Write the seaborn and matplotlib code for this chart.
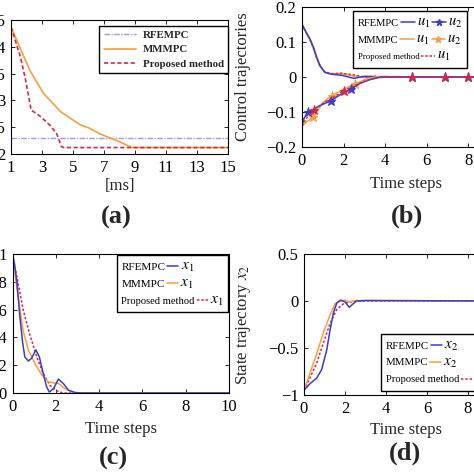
import seaborn as sns
import matplotlib.pyplot as plt
from matplotlib.lines import Line2D
from matplotlib.offsetbox import AnchoredOffsetbox, DrawingArea, HPacker, TextArea, VPacker

# (a) computation time against prediction horizon
a_rfe_x = [1, 15]
a_rfe_y = [2.30, 2.30]
a_mmm_x = [1.0, 2.2, 3.1, 4.2, 5.5, 6.0, 6.7, 8.0, 8.8, 15]
a_mmm_y = [4.37, 3.57, 3.13, 2.79, 2.54, 2.49, 2.38, 2.23, 2.12, 2.12]
a_pro_x = [1.0, 1.6, 1.9, 2.3, 2.9, 3.5, 3.95, 4.25, 4.4, 15]
a_pro_y = [4.37, 3.82, 3.44, 2.82, 2.70, 2.54, 2.38, 2.14, 2.12, 2.12]
a_xticks = [1, 3, 5, 7, 9, 11, 13, 15]
a_yticks = [2, 2.5, 3, 3.5, 4, 4.5]
a_ylabels = ['2', '2.5', '3', '3.5', '4', '4.5']

# (b) control trajectories
b_u1_x = [0, 0.2, 0.38, 0.55, 0.71, 0.87, 1.1, 1.4, 1.9, 2.5, 3.0, 3.5, 4.0, 10]
b_rfe_u1 = [0.150, 0.128, 0.109, 0.085, 0.056, 0.032, 0.013, 0.008, 0.005, -0.004, 0.002, 0.001, 0.0, 0.0]
b_mmm_u1 = [0.150, 0.126, 0.106, 0.082, 0.052, 0.030, 0.014, 0.010, 0.009, 0.002, -0.002, 0.001, 0.0, 0.0]
b_pro_u1 = [0.150, 0.127, 0.108, 0.083, 0.054, 0.031, 0.014, 0.009, 0.011, 0.006, 0.0, 0.002, 0.0, 0.0]
b_rfe_u2_x = [0, 0.1, 0.27, 0.6, 1.0, 1.39, 1.8, 2.36, 2.8, 3.3, 3.8, 4.5, 5.27, 6.87, 7.98, 9.5, 10]
b_rfe_u2 = [-0.14, -0.118, -0.101, -0.09, -0.078, -0.068, -0.052, -0.034, -0.018, -0.007, 0.0, 0.0, 0.0, 0.0, 0.0, 0.0, 0.0]
b_rfe_marks = [0.27, 1.39, 2.36, 5.27, 6.87, 7.98, 9.5]
b_mmm_u2_x = [0, 0.25, 0.54, 0.8, 1.1, 1.43, 2.0, 2.55, 3.0, 3.5, 4.0, 4.5, 10]
b_mmm_u2 = [-0.14, -0.127, -0.115, -0.09, -0.068, -0.053, -0.035, -0.02, -0.008, 0.0, 0.002, 0.0, 0.0]
b_mmm_marks = [0.54, 1.43, 2.55]
b_pro_u2_x = [0, 0.3, 0.59, 1.0, 1.5, 2.03, 2.5, 3.0, 3.5, 4.0, 5.27, 6.87, 7.98, 9.5, 10]
b_pro_u2 = [-0.14, -0.11, -0.093, -0.075, -0.058, -0.039, -0.025, -0.012, -0.003, 0.0, 0.0, 0.0, 0.0, 0.0, 0.0]
b_pro_marks = [0.59, 2.03, 5.27, 6.87, 7.98, 9.5]
b_yticks = [-0.2, -0.1, 0, 0.1, 0.2]
b_ylabels = ['\u22120.2', '\u22120.1', '0', '0.1', '0.2']

# (c) state trajectory x1
c_rfe_x = [0, 0.1, 0.21, 0.34, 0.47, 0.57, 0.73, 0.88, 1.08, 1.24, 1.42, 1.58, 1.70, 1.89, 2.12, 2.35, 2.59, 2.9, 3.2, 10]
c_rfe_y = [1.0, 0.92, 0.79, 0.55, 0.36, 0.26, 0.23, 0.25, 0.31, 0.26, 0.14, 0.043, 0.007, 0.03, 0.10, 0.068, 0.02, 0.003, 0.0, 0.0]
c_mmm_x = [0, 0.26, 0.49, 0.73, 1.04, 1.35, 1.66, 1.89, 2.12, 2.43, 2.8, 3.1, 10]
c_mmm_y = [1.0, 0.69, 0.45, 0.31, 0.21, 0.13, 0.08, 0.073, 0.07, 0.03, 0.004, 0.0, 0.0]
c_pro_x = [0, 0.26, 0.49, 0.80, 1.12, 1.42, 1.73, 2.05, 2.35, 10]
c_pro_y = [1.0, 0.79, 0.60, 0.42, 0.26, 0.14, 0.055, 0.015, 0.0, 0.0]
c_yticks = [0, 0.2, 0.4, 0.6, 0.8, 1]
c_ylabels = ['0', '0.2', '0.4', '0.6', '0.8', '1']

# (d) state trajectory x2
d_rfe_x = [0, 0.29, 0.62, 0.86, 1.11, 1.27, 1.43, 1.6, 1.79, 2.0, 2.21, 2.37, 2.56, 3.0, 10]
d_rfe_y = [-0.95, -0.88, -0.82, -0.73, -0.52, -0.31, -0.13, -0.02, 0.01, -0.01, -0.067, -0.035, 0.0, 0.005, 0.0]
d_mmm_x = [0, 0.29, 0.62, 0.94, 1.27, 1.51, 1.79, 2.0, 2.2, 2.5, 10]
d_mmm_y = [-0.95, -0.77, -0.56, -0.34, -0.15, -0.03, 0.0, 0.01, -0.01, 0.005, 0.0]
d_pro_x = [0, 0.29, 0.62, 0.94, 1.27, 1.6, 1.95, 2.28, 2.6, 10]
d_pro_y = [-0.95, -0.82, -0.66, -0.45, -0.24, -0.09, -0.025, -0.01, 0.0, 0.0]
d_yticks = [-1, -0.5, 0, 0.5]
d_ylabels = ['\u22121', '\u22120.5', '0', '0.5']

steps_xticks = [0, 2, 4, 6, 8, 10]

BLUE = '#3c3cc8'
LAVENDER = '#9c9cd8'
ORANGE = '#f3a040'
RED = '#cf2a4c'
DOT = (0, (1.6, 1.2))

sns.set_theme(style='ticks')
plt.rcParams['font.family'] = ['Liberation Serif', 'DejaVu Serif']
plt.rcParams['mathtext.fontset'] = 'stix'
plt.rcParams['axes.unicode_minus'] = True


def style(ax, xlim, ylim, xticks, yticks, ylabels):
    ax.set_xlim(xlim)
    ax.set_ylim(ylim)
    ax.set_xticks(xticks)
    ax.set_xticklabels([f'{t:g}' for t in xticks])
    ax.set_yticks(yticks)
    ax.set_yticklabels(ylabels)
    ax.tick_params(direction='in', top=True, right=True, length=3, width=0.6,
                   labelsize=12, pad=4, colors='black')
    for s in ax.spines.values():
        s.set_linewidth(0.8)
        s.set_color('black')


def curve(ax, x, y, color, ls='-', lw=1.1, marks=None, label=None):
    kw = {}
    if marks is not None:
        kw = dict(marker='*', ms=6.5, mec=color, mfc=color,
                  markevery=[list(x).index(m) for m in marks])
    sns.lineplot(x=x, y=y, ax=ax, color=color, ls=ls, lw=lw, label=label, **kw)


def row_legend(ax, rows, loc, anchor, sym_size, seg):
    # matlab-ish legend: "name  ---sym  -*-sym" on each row
    boxes = []
    for name, size, items in rows:
        kids = [TextArea(name, textprops=dict(size=size, color='black'))]
        for st, sym in items:
            da = DrawingArea(seg, 6, 0, 0)
            da.add_artist(Line2D([0, seg / 2, seg], [2.6, 2.6, 2.6], markevery=[1], **st))
            kids += [da, TextArea(sym, textprops=dict(size=sym_size, color='black'))]
        boxes.append(HPacker(children=kids, align='baseline', pad=0, sep=1.5))
    box = AnchoredOffsetbox(loc, child=VPacker(children=boxes, align='left', pad=0, sep=2),
                            pad=0.3, borderpad=0, frameon=True,
                            bbox_to_anchor=anchor, bbox_transform=ax.transAxes)
    box.patch.set_boxstyle('square', pad=0)
    box.patch.set_edgecolor('black')
    box.patch.set_linewidth(1.0)
    ax.add_artist(box)


fig = plt.figure(figsize=(4.74, 4.74), dpi=100)
W = H = 474.0


def place(left, top, right, bottom):
    return fig.add_axes([left / W, 1 - bottom / H, (right - left) / W, (bottom - top) / H])


# ---- (a)
ax = place(11, 20, 228, 154)
curve(ax, a_rfe_x, a_rfe_y, LAVENDER, ls=(0, (4, 1, 1, 1)), lw=1.0, label='RFEMPC')
curve(ax, a_mmm_x, a_mmm_y, ORANGE, lw=1.2, label='MMMPC')
curve(ax, a_pro_x, a_pro_y, RED, ls=(0, (2.5, 1.5)), lw=1.2, label='Proposed method')
style(ax, (1, 15), (2, 4.5), a_xticks, a_yticks, a_ylabels)
ax.legend(loc='upper right', bbox_to_anchor=(1, 0.955), borderaxespad=0, handlelength=3.0,
          handletextpad=0.6, labelspacing=0.45, fancybox=False, framealpha=1,
          edgecolor='black', prop=dict(size=7.8, weight='bold')).get_frame().set_linewidth(1.0)
ax.set_xlabel('[ms]', fontsize=12)
ax.xaxis.set_label_coords(0.5, -0.18)

# ---- (b)
ax = place(302, 7, 510, 147)
curve(ax, b_u1_x, b_mmm_u1, ORANGE)
curve(ax, b_u1_x, b_pro_u1, RED, ls=DOT)
curve(ax, b_u1_x, b_rfe_u1, BLUE)
curve(ax, b_mmm_u2_x, b_mmm_u2, ORANGE, marks=b_mmm_marks)
curve(ax, b_rfe_u2_x, b_rfe_u2, BLUE, marks=b_rfe_marks)
curve(ax, b_pro_u2_x, b_pro_u2, RED, ls=DOT, marks=b_pro_marks)
style(ax, (0, 10), (-0.2, 0.2), steps_xticks, b_yticks, b_ylabels)
ax.set_xlabel('Time steps', fontsize=12)
ax.xaxis.set_label_coords(0.5, -0.205)
ax.set_ylabel('Control trajectories', fontsize=12)
ax.yaxis.set_label_coords(-0.245, 0.5)
solid = dict(lw=1.1, ls='-')
row_legend(ax, [
    ('RFEMPC', 7.6, [(dict(color=BLUE, **solid), '$u_1$'),
                     (dict(color=BLUE, marker='*', ms=5, **solid), '$u_2$')]),
    ('MMMPC', 7.6, [(dict(color=ORANGE, **solid), '$u_1$'),
                    (dict(color=ORANGE, marker='*', ms=5, **solid), '$u_2$')]),
    ('Proposed method', 6.3, [(dict(color=RED, lw=1.1, ls=DOT), '$u_1$')]),
], 'upper left', (0.245, 0.971), 10.5, 10)

# ---- (c)
ax = place(12.5, 254, 229, 393)
curve(ax, c_pro_x, c_pro_y, RED, ls=DOT)
curve(ax, c_mmm_x, c_mmm_y, ORANGE)
curve(ax, c_rfe_x, c_rfe_y, BLUE)
style(ax, (0, 10), (0, 1), steps_xticks, c_yticks, c_ylabels)
ax.set_xlabel('Time steps', fontsize=12)
ax.xaxis.set_label_coords(0.5, -0.2)
row_legend(ax, [
    ('RFEMPC', 8, [(dict(color=BLUE, **solid), '$x_1$')]),
    ('MMMPC', 8, [(dict(color=ORANGE, **solid), '$x_1$')]),
    ('Proposed method', 7.6, [(dict(color=RED, lw=1.1, ls=DOT), '$x_1$')]),
], 'upper right', (0.995, 0.99), 11, 8)

# ---- (d)
ax = place(304, 254, 509, 395)
curve(ax, d_pro_x, d_pro_y, RED, ls=DOT)
curve(ax, d_mmm_x, d_mmm_y, ORANGE)
curve(ax, d_rfe_x, d_rfe_y, BLUE)
style(ax, (0, 10), (-1, 0.5), steps_xticks, d_yticks, d_ylabels)
ax.set_xlabel('Time steps', fontsize=12)
ax.xaxis.set_label_coords(0.5, -0.19)
ax.set_ylabel('State trajectory $x_2$', fontsize=12)
ax.yaxis.set_label_coords(-0.25, 0.5)
row_legend(ax, [
    ('RFEMPC', 7.8, [(dict(color=BLUE, **solid), '$x_2$')]),
    ('MMMPC', 7.8, [(dict(color=ORANGE, **solid), '$x_2$')]),
    ('Proposed method', 7.6, [(dict(color=RED, lw=1.1, ls=DOT), '$x_2$')]),
], 'lower left', (0.376, 0.028), 11, 8)

for txt, x, y in [('(a)', 116, 217), ('(b)', 407, 216), ('(c)', 113, 458), ('(d)', 405, 453)]:
    fig.text(x / W, 1 - y / H, txt, ha='center', va='center', fontsize=19, fontweight='bold')

fig.savefig('out.png', dpi=100)
